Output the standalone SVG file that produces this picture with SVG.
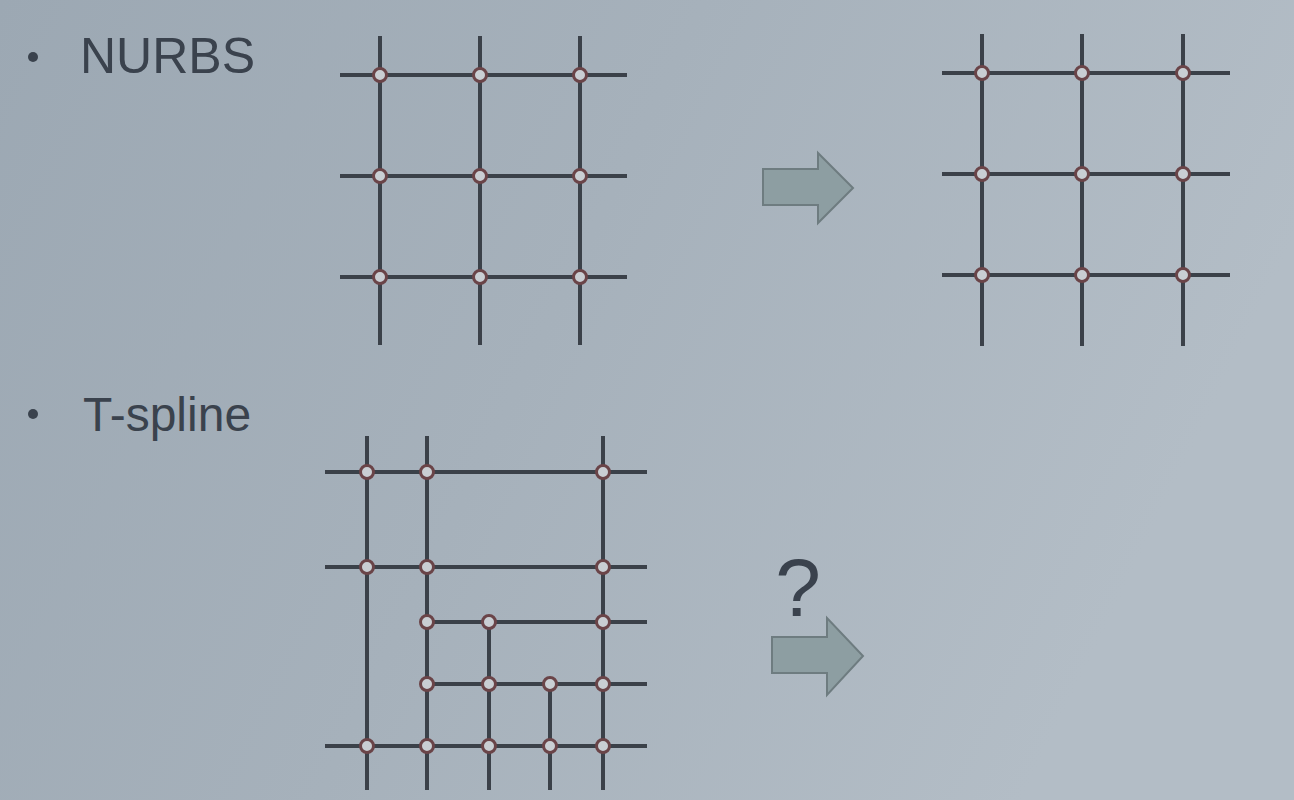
<svg xmlns="http://www.w3.org/2000/svg" width="1294" height="800" viewBox="0 0 1294 800">
<defs>
<linearGradient id="bg" x1="0" y1="0" x2="1" y2="0.3">
<stop offset="0" stop-color="#9ca8b3"/>
<stop offset="0.5" stop-color="#a6b1bb"/>
<stop offset="1" stop-color="#b3bdc6"/>
</linearGradient>
<style>
.ln{stroke:#3b4149;stroke-width:4;stroke-linecap:butt;fill:none}
.nd{fill:#c9ced3;stroke:#6a4448;stroke-width:3}
.tx{font-family:"Liberation Sans",Arial,sans-serif;font-size:50px;fill:#3a424d}
.bul{fill:#3a424d}
.arr{fill:#8d9ea2;stroke:#6e7c80;stroke-width:2}
</style>
</defs>
<rect width="1294" height="800" fill="url(#bg)"/>
<g id="labels">
<circle class="bul" cx="33" cy="57" r="5"/>
<text class="tx" x="80" y="73">NURBS</text>
<circle class="bul" cx="33" cy="414" r="5"/>
<text class="tx" x="83" y="431" style="font-size:48px">T-spline</text>
<text x="798" y="616" text-anchor="middle" style="font-family:'Liberation Sans',Arial,sans-serif;font-size:82px;fill:#3a424d">?</text>
</g>
<g id="connectors">
<g id="grid1-lines">
<line class="ln" x1="380" y1="36" x2="380" y2="345"/>
<line class="ln" x1="480" y1="36" x2="480" y2="345"/>
<line class="ln" x1="580" y1="36" x2="580" y2="345"/>
<line class="ln" x1="340" y1="75" x2="627" y2="75"/>
<line class="ln" x1="340" y1="176" x2="627" y2="176"/>
<line class="ln" x1="340" y1="277" x2="627" y2="277"/>
</g>
<g id="grid2-lines">
<line class="ln" x1="982" y1="34" x2="982" y2="346"/>
<line class="ln" x1="1082" y1="34" x2="1082" y2="346"/>
<line class="ln" x1="1183" y1="34" x2="1183" y2="346"/>
<line class="ln" x1="942" y1="73" x2="1230" y2="73"/>
<line class="ln" x1="942" y1="174" x2="1230" y2="174"/>
<line class="ln" x1="942" y1="275" x2="1230" y2="275"/>
</g>
<g id="tspline-lines">
<line class="ln" x1="367" y1="436" x2="367" y2="790"/>
<line class="ln" x1="427" y1="436" x2="427" y2="790"/>
<line class="ln" x1="489" y1="622" x2="489" y2="790"/>
<line class="ln" x1="550" y1="684" x2="550" y2="790"/>
<line class="ln" x1="603" y1="436" x2="603" y2="790"/>
<line class="ln" x1="325" y1="472" x2="647" y2="472"/>
<line class="ln" x1="325" y1="567" x2="647" y2="567"/>
<line class="ln" x1="427" y1="622" x2="647" y2="622"/>
<line class="ln" x1="427" y1="684" x2="647" y2="684"/>
<line class="ln" x1="325" y1="746" x2="647" y2="746"/>
</g>
</g>
<g id="arrow1"><polygon class="arr" points="763,169 818,169 818,153 853,188 818,223 818,205 763,205"/></g>
<g id="arrow2"><polygon class="arr" points="772,637 827,637 827,618 863,656 827,695 827,673 772,673"/></g>
<g id="grid1-nodes">
<circle class="nd" cx="380" cy="75" r="6.5"/><circle class="nd" cx="480" cy="75" r="6.5"/><circle class="nd" cx="580" cy="75" r="6.5"/>
<circle class="nd" cx="380" cy="176" r="6.5"/><circle class="nd" cx="480" cy="176" r="6.5"/><circle class="nd" cx="580" cy="176" r="6.5"/>
<circle class="nd" cx="380" cy="277" r="6.5"/><circle class="nd" cx="480" cy="277" r="6.5"/><circle class="nd" cx="580" cy="277" r="6.5"/>
</g>
<g id="grid2-nodes">
<circle class="nd" cx="982" cy="73" r="6.5"/><circle class="nd" cx="1082" cy="73" r="6.5"/><circle class="nd" cx="1183" cy="73" r="6.5"/>
<circle class="nd" cx="982" cy="174" r="6.5"/><circle class="nd" cx="1082" cy="174" r="6.5"/><circle class="nd" cx="1183" cy="174" r="6.5"/>
<circle class="nd" cx="982" cy="275" r="6.5"/><circle class="nd" cx="1082" cy="275" r="6.5"/><circle class="nd" cx="1183" cy="275" r="6.5"/>
</g>
<g id="tspline-nodes">
<circle class="nd" cx="367" cy="472" r="6.5"/><circle class="nd" cx="427" cy="472" r="6.5"/><circle class="nd" cx="603" cy="472" r="6.5"/>
<circle class="nd" cx="367" cy="567" r="6.5"/><circle class="nd" cx="427" cy="567" r="6.5"/><circle class="nd" cx="603" cy="567" r="6.5"/>
<circle class="nd" cx="427" cy="622" r="6.5"/><circle class="nd" cx="489" cy="622" r="6.5"/><circle class="nd" cx="603" cy="622" r="6.5"/>
<circle class="nd" cx="427" cy="684" r="6.5"/><circle class="nd" cx="489" cy="684" r="6.5"/><circle class="nd" cx="550" cy="684" r="6.5"/><circle class="nd" cx="603" cy="684" r="6.5"/>
<circle class="nd" cx="367" cy="746" r="6.5"/><circle class="nd" cx="427" cy="746" r="6.5"/><circle class="nd" cx="489" cy="746" r="6.5"/><circle class="nd" cx="550" cy="746" r="6.5"/><circle class="nd" cx="603" cy="746" r="6.5"/>
</g>
</svg>
